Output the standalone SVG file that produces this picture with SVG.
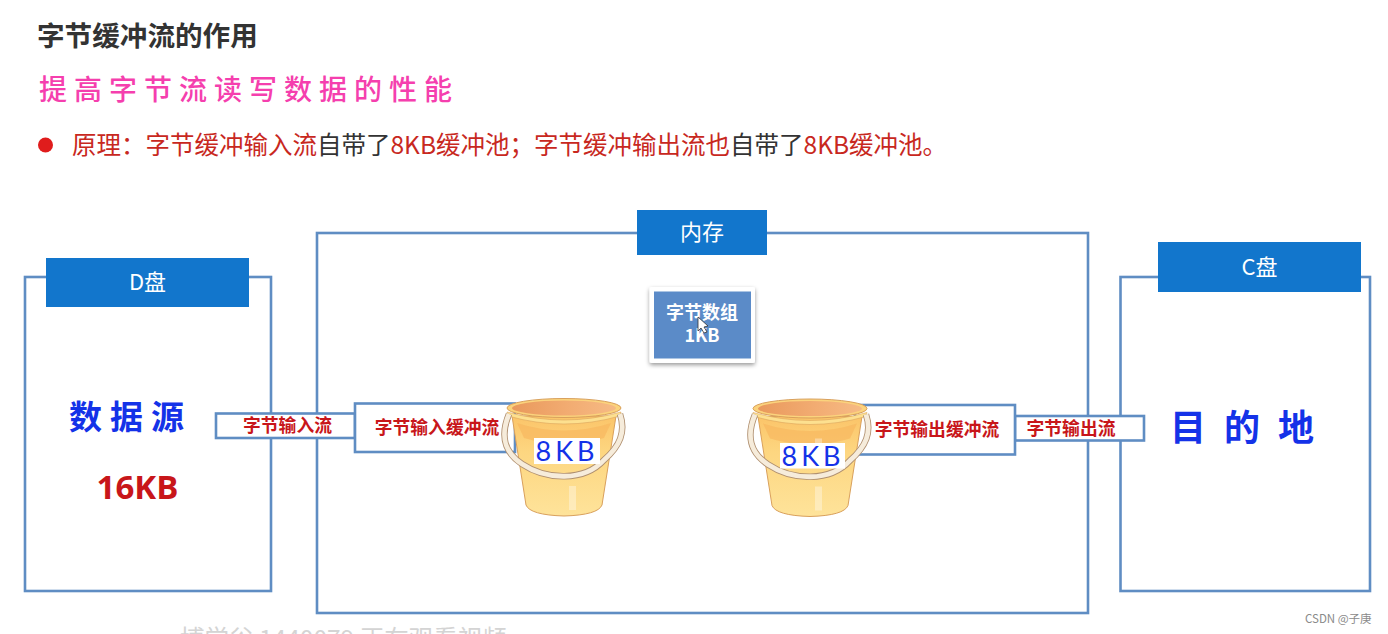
<svg xmlns="http://www.w3.org/2000/svg" width="1388" height="634" viewBox="0 0 1388 634">
<style>
text{font-family:"Noto Sans CJK SC","Noto Sans",sans-serif}
.box{fill:#fff;stroke:#5f8dc3;stroke-width:2.6}
.hdr{fill:#1276cc}
.hdt{fill:#fff;font-size:22px;text-anchor:middle}
.lbl{fill:#c8161a;font-size:17.800px;font-weight:700;text-anchor:middle}
.hand{fill:#1432e8;font-weight:700}
.red{fill:#c8281e}
.dk{fill:#333}
</style>
<defs>
<linearGradient id="rim" x1="0" x2="1" y1="0" y2="0"><stop offset="0" stop-color="#e9995c"/><stop offset=".55" stop-color="#f2ac72"/><stop offset="1" stop-color="#f6ba84"/></linearGradient>
<linearGradient id="body" x1="0" x2="0" y1="0" y2="1"><stop offset="0" stop-color="#fbc469"/><stop offset=".35" stop-color="#fdd680"/><stop offset="1" stop-color="#fee39a"/></linearGradient>
<filter id="sh" x="-20%" y="-20%" width="140%" height="150%"><feDropShadow dx="0" dy="2" stdDeviation="2" flood-color="#000" flood-opacity=".4"/></filter>
<g id="bucket">
<path d="M-52 8 L-38 97 Q-34 107 0 108 Q34 107 38 97 L52 8Z" fill="url(#body)" stroke="#d9a05c" stroke-width="1"/>
<path d="M-47 15 Q0 30 47 15 L40 30 Q0 42 -40 30Z" fill="#f8b860" opacity=".7"/>
<rect x="5" y="30" width="7" height="16" fill="#fff" opacity=".35"/>
<rect x="5" y="78" width="7" height="24" fill="#fff" opacity=".35"/>
<ellipse cx="0" cy="0" rx="57" ry="9.500" fill="#fbd37c" stroke="#d9a05c" stroke-width="1"/>
<ellipse cx="0" cy="0" rx="52" ry="7.500" fill="url(#rim)"/>
<path d="M-57 4 Q0 20 57 4 L56 8 Q0 24 -56 8Z" fill="#fde08f" stroke="#dca55c" stroke-width=".6"/>
<path d="M-55 6 C-64 28 -60 44 -42 56 C-18 72 20 74 40 52 C56 38 62 24 56 6" fill="none" stroke="#b09070" stroke-width="6.500"/>
<path d="M-55 6 C-64 28 -60 44 -42 56 C-18 72 20 74 40 52 C56 38 62 24 56 6" fill="none" stroke="#f6ecdb" stroke-width="4.800"/>
</g>
</defs>

<g id="title">
<text x="37" y="46" font-size="27.600" font-weight="700" fill="#333">字节缓冲流的作用</text>
<text x="39" y="100" font-size="28" font-weight="500" letter-spacing="7" fill="#f53fae">提高字节流读写数据的性能</text>
<circle cx="45.500" cy="145" r="7.500" fill="#e01c1c"/>
<text x="72" y="154" font-size="24.500"><tspan class="red">原理&#xFF1A;字节缓冲输入流</tspan><tspan class="dk">自带了</tspan><tspan class="red">8KB缓冲池&#xFF1B;字节缓冲输出流也</tspan><tspan class="dk">自带了</tspan><tspan class="red">8KB缓冲池。</tspan></text>
</g>

<g id="node-d">
<rect class="box" x="25" y="277" width="246" height="314"/>
<rect class="hdr" x="46" y="258" width="203" height="49"/>
<text class="hdt" x="147.500" y="290">D盘</text>
<text class="hand" x="69" y="429" font-size="33" letter-spacing="8">数据源</text>
<text x="137.500" y="499" font-size="33" font-weight="700" fill="#c8161a" text-anchor="middle" style="font-family:'Open Sans',sans-serif">16KB</text>
</g>

<g id="node-memory">
<rect class="box" x="317" y="233" width="771" height="380"/>
<rect class="hdr" x="637" y="210" width="130" height="45"/>
<text class="hdt" x="702" y="240">内存</text>
</g>

<g id="node-c">
<rect class="box" x="1120.500" y="277" width="249.500" height="314"/>
<rect class="hdr" x="1158" y="242" width="203" height="50"/>
<text class="hdt" x="1259.500" y="275">C盘</text>
<text class="hand" x="1170" y="441" font-size="36" letter-spacing="18">目的地</text>
</g>

<g id="connectors">
<g id="stream-in">
<rect class="box" x="216" y="413.500" width="139" height="24.500"/>
<text class="lbl" x="287.500" y="432">字节输入流</text>
</g>
<g id="stream-out">
<rect class="box" x="1015" y="416" width="129" height="24.500"/>
<text class="lbl" x="1071" y="435">字节输出流</text>
</g>
</g>

<g id="node-byte-array">
<rect x="649.500" y="287" width="105.500" height="76" rx="2" fill="#fff" filter="url(#sh)"/>
<rect x="654" y="291.500" width="97" height="67" fill="#5b8bc8"/>
<text x="702" y="319" font-size="18" font-weight="700" fill="#fff" text-anchor="middle">字节数组</text>
<text x="702" y="342" font-size="18" font-weight="700" fill="#fff" text-anchor="middle">1KB</text>
<polygon points="698,317 698,331 701,328 704,333 707,332 704,327 708,326" fill="#fff" stroke="#333" stroke-width=".8"/>
</g>

<g id="node-input-buffer">
<rect class="box" x="355" y="403.500" width="160" height="48.500"/>
<text class="lbl" x="437" y="434">字节输入缓冲流</text>
<use href="#bucket" x="564" y="408"/>
<rect x="534" y="438" width="66" height="26" fill="#fff"/>
<text x="567" y="461" font-size="27" fill="#1432e8" letter-spacing="4" text-anchor="middle" style="font-family:'Lato',sans-serif">8KB</text>
</g>

<g id="node-output-buffer">
<rect class="box" x="855" y="405" width="160" height="49.500"/>
<text class="lbl" x="937" y="436">字节输出缓冲流</text>
<use href="#bucket" x="810" y="408.500"/>
<rect x="780" y="443" width="65" height="25.500" fill="#fff"/>
<text x="813" y="466" font-size="27" fill="#1432e8" letter-spacing="4" text-anchor="middle" style="font-family:'Lato',sans-serif">8KB</text>
</g>

<g id="marks">
<text x="180" y="648" font-size="24.500" fill="#d4d4d4">博学谷 1440079 正在观看视频</text>
<text x="1305" y="623" font-size="11.500" fill="#8a8a8a">CSDN @子庚</text>
</g>
</svg>
